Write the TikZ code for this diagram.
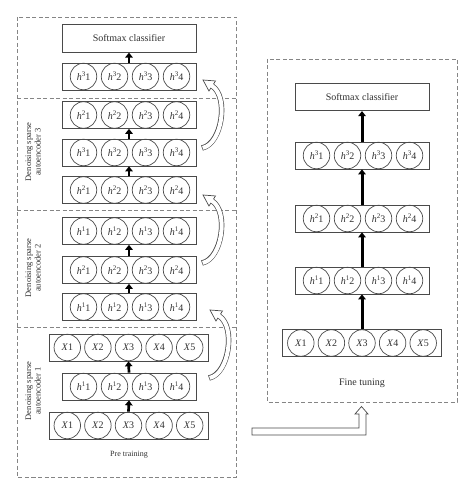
\documentclass[tikz,border=0pt]{standalone}
\usepackage{fontspec}
\setmainfont{Liberation Serif}
\usetikzlibrary{arrows.meta,calc}
\definecolor{boxgray}{HTML}{4A4A4A}
\definecolor{dashgray}{HTML}{858585}
\definecolor{txtgray}{HTML}{303030}

\tikzset{
  rowbox/.style={draw=boxgray, line width=0.7pt, minimum height=27pt, inner sep=0pt},
  unit/.style={circle, draw=boxgray, line width=0.7pt, minimum size=26.5pt, inner sep=0pt,
    text=txtgray, font=\fontsize{10}{11}\selectfont},
  smbox/.style={rowbox, minimum width=134pt, minimum height=27.5pt, text=txtgray,
    font=\fontsize{10}{12}\selectfont},
  upa/.style={line width=2.7pt, -{Triangle[length=5pt,width=7.5pt]}},
  dbox/.style={draw=dashgray, line width=0.8pt, dash pattern=on 4pt off 2.5pt},
  seclab/.style={rotate=90, align=center, text=txtgray, font=\fontsize{8.5}{9.5}\selectfont},
  caplab/.style={text=txtgray},
  hollow/.style={draw=boxgray, fill=white, line width=0.7pt, line join=miter}
}

\newcommand{\HRow}[4]{%
  \node[rowbox, minimum width=134pt] (#1) at (#2,#3) {};
  \foreach \k in {1,2,3,4} {
    \node[unit] (#1-\k) at ($(#1.center)+({(\k-2.5)*31+1},0)$) {\textit{h}\raisebox{0.9ex}{\fontsize{7}{7}\selectfont #4}\k};
  }%
}
\newcommand{\XRow}[3]{%
  \node[rowbox, minimum width=159pt] (#1) at (#2,#3) {};
  \foreach \k in {1,...,5} {
    \node[unit] (#1-\k) at ($(#1.center)+({(\k-3)*30.6},0)$) {\textit{X}\k};
  }%
}
\newcommand{\CurvArrow}[3]{%
  \begin{scope}[shift={(#1,#2)}]
    \coordinate (#3-tail) at (202,-148);
    \coordinate (#3-ca) at (222,-144);
    \coordinate (#3-cb) at (229,-97);
    \coordinate (#3-base) at (212.2,-86);
    \coordinate (#3-tip) at (203,-80);
    \draw[boxgray, line width=5.4pt] (#3-tail) .. controls (#3-ca) and (#3-cb) .. (#3-base);
    \draw[hollow] (#3-tip) -- ++(298.4:12.53) -- ++(57:12) -- cycle;
    \draw[white, line width=4pt, shorten <=0.7pt] (#3-tail) .. controls (#3-ca) and (#3-cb) .. (#3-base) -- ++(147:1.5);
  \end{scope}
}

\begin{document}
\begin{tikzpicture}[x=1pt, y=1pt]
\useasboundingbox (0,0) rectangle (474,-494);

% ---------- left: pre training ----------
\draw[dbox] (17,-17) rectangle (236,-477);
\draw[dbox] (17,-98) -- (236,-98);
\draw[dbox] (17,-210) -- (236,-210);
\draw[dbox] (17,-327) -- (236,-327);

\node[smbox] (smL) at (129,-38.5) {Softmax classifier};
\HRow{L4}{129}{-76.5}{3}
\HRow{L3a}{129}{-115}{2}
\HRow{L3b}{129}{-152.5}{3}
\HRow{L3c}{129}{-190}{2}
\HRow{L2a}{129}{-231}{1}
\HRow{L2b}{129}{-270}{2}
\HRow{L2c}{129}{-307}{1}
\XRow{L1a}{128.5}{-347.5}
\HRow{L1b}{129}{-386.5}{1}
\XRow{L1c}{128.5}{-425.5}

\draw[upa] (L4.north) -- (smL.south);
\draw[upa] (L3b.north) -- (L3a.south);
\draw[upa] (L3c.north) -- (L3b.south);
\draw[upa] (L2b.north) -- (L2a.south);
\draw[upa] (L2c.north) -- (L2b.south);
\draw[upa] (L1b.north) -- (L1a.south);
\draw[upa] (L1c.north) -- (L1b.south);

\node[seclab] (lab3) at (33,-152) {Denoising sparse\\autoencoder 3};
\node[seclab] (lab2) at (33,-268) {Denoising sparse\\autoencoder 2};
\node[seclab] (lab1) at (33,-391) {Denoising sparse\\autoencoder 1};
\node[caplab, font=\fontsize{8}{10}\selectfont] (pretrain) at (129,-455) {Pre training};

\CurvArrow{0}{0}{ca1}
\CurvArrow{0}{-115}{ca2}
\CurvArrow{7}{-230}{ca3}

% ---------- right: fine tuning ----------
\draw[dbox] (267,-59) rectangle (457,-402);
\node[smbox] (smR) at (362,-97) {Softmax classifier};
\HRow{R3}{362}{-155.5}{3}
\HRow{R2}{362}{-218.5}{2}
\HRow{R1}{362}{-280.5}{1}
\XRow{RX}{362}{-343}
\node[caplab, font=\fontsize{10}{12}\selectfont] (finetune) at (362,-383) {Fine tuning};

\draw[upa, line width=3pt] (R3.north) -- (smR.south);
\draw[upa, line width=3pt] (R2.north) -- (R3.south);
\draw[upa, line width=3pt] (R1.north) -- (R2.south);
\draw[upa, line width=3pt] (RX.north) -- (R1.south);

% ---------- hollow connector from pre training to fine tuning ----------
\draw[hollow] (252,-428) -- (359,-428) -- (359,-414) -- (355,-414) -- (361.5,-406.5)
  -- (368,-414) -- (366,-414) -- (366,-435) -- (252,-435) -- cycle;
\end{tikzpicture}
\end{document}
